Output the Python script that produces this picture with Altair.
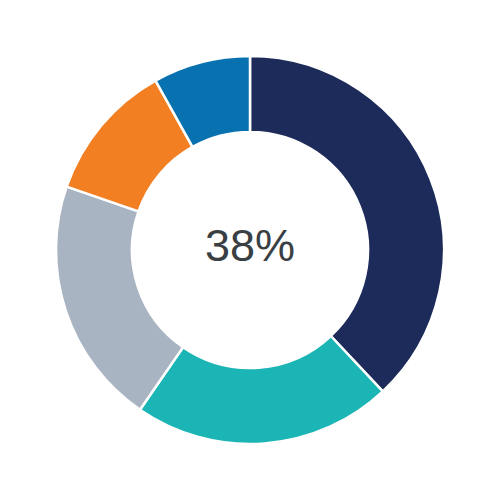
import altair as alt
import pandas as pd

categories = ["A", "B", "C", "D", "E"]
values = [38, 21.6, 20.7, 11.6, 8.1]
colors = ["#1c2b59", "#1cb5b5", "#a9b4c2", "#f27f22", "#0872b0"]
center_label = "38%"

df = pd.DataFrame({"cat": categories, "value": values, "order": list(range(len(categories)))})

arcs = alt.Chart(df).mark_arc(innerRadius=118, outerRadius=194, stroke="white", strokeWidth=2.5).encode(
    theta=alt.Theta("value:Q", stack=True),
    order=alt.Order("order:Q"),
    color=alt.Color("cat:N", scale=alt.Scale(domain=categories, range=colors), legend=None),
)

text = alt.Chart(pd.DataFrame({"t": [center_label]})).mark_text(
    fontSize=45, font="Liberation Sans", color="#3a3f44", baseline="middle", align="center", dy=-3
).encode(text="t:N")

chart = alt.layer(arcs, text).properties(
    width=484, height=484, autosize=alt.AutoSizeParams(type="none"), padding=0
).configure_view(stroke=None)

chart.save("out.html", embed_options={"renderer": "svg", "actions": False})
